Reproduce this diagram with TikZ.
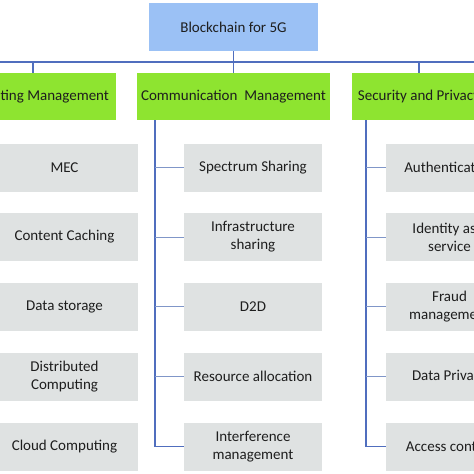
\documentclass[tikz,border=0pt]{standalone}
\usepackage{fontspec}
\setmainfont{Carlito}
\definecolor{topblue}{RGB}{155,193,245}
\definecolor{lime}{RGB}{142,228,48}
\definecolor{boxgray}{RGB}{223,226,226}
\definecolor{linkblue}{RGB}{80,110,190}
\definecolor{branchblue}{RGB}{128,150,200}
\definecolor{txt}{RGB}{30,30,30}
\begin{document}
\begin{tikzpicture}[x=1pt,y=-1pt,
  every node/.style={inner sep=0pt,text=txt,font=\fontsize{15}{18}\selectfont,align=center},
  topbox/.style={fill=topblue,minimum width=169pt,minimum height=48pt},
  catbox/.style={fill=lime,minimum height=47pt},
  itembox/.style={fill=boxgray,minimum height=48pt,minimum width=138pt},
  bus/.style={draw=linkblue,line width=1.1pt},
  branch/.style={draw=branchblue,line width=0.9pt}]
\useasboundingbox (0,0) rectangle (474,474);
\clip (0,0) rectangle (474,474);
\fill[white] (0,0) rectangle (474,474);
% top
\node[topbox] (top) at (233.5,27) {Blockchain for 5G};
% categories
\node[catbox,minimum width=166pt] (cL) at (33,96.5) {Computing Management};
\node[catbox,minimum width=193pt] (cM) at (233.5,96.5) {Communication\ \ Management};
\node[catbox,minimum width=134pt] (cR) at (419,96.5) {Security and Privacy};
% bus
\coordinate (busL) at (0,62);
\coordinate (busR) at (474,62);
\draw[bus] (busL) -- (busR);
\draw[bus] (top.south) -- (top.south |- busL);
\draw[bus] (cL.north) -- (cL.north |- busL);
\draw[bus] (cM.north) -- (cM.north |- busL);
\draw[bus] (cR.north) -- (cR.north |- busL);
% left column
\node[itembox,minimum width=147pt] (l1) at (64.5,167.5) {MEC};
\node[itembox,minimum width=147pt] (l2) at (64.5,237) {Content Caching};
\node[itembox,minimum width=147pt] (l3) at (64.5,306.5) {Data storage};
\node[itembox,minimum width=147pt] (l4) at (64.5,376.5) {Distributed\\Computing};
\node[itembox,minimum width=147pt] (l5) at (64.5,446.5) {Cloud Computing};
% middle column
\node[itembox] (m1) at (253,167.5) {Spectrum Sharing};
\node[itembox] (m2) at (253,237) {Infrastructure\\sharing};
\node[itembox] (m3) at (253,306.5) {D2D};
\node[itembox] (m4) at (253,376.5) {Resource allocation};
\node[itembox] (m5) at (253,446.5) {Interference\\management};
% right column
\node[itembox,minimum width=127pt] (r1) at (449.5,167.5) {Authentication};
\node[itembox,minimum width=127pt] (r2) at (449.5,237) {Identity as a\\service};
\node[itembox,minimum width=127pt] (r3) at (449.5,306.5) {Fraud\\management};
\node[itembox,minimum width=127pt] (r4) at (449.5,376.5) {Data Privacy};
\node[itembox,minimum width=127pt] (r5) at (449.5,446.5) {Access control};
% middle tree
\coordinate (mv) at (155,120);
\draw[bus] (mv) |- (m5.west);
\foreach \n in {m1,m2,m3,m4} \draw[branch] (\n.west) -- (\n.west -| mv);
% right tree
\coordinate (rv) at (366,120);
\draw[bus] (rv) |- (r5.west);
\foreach \n in {r1,r2,r3,r4} \draw[branch] (\n.west) -- (\n.west -| rv);
\end{tikzpicture}
\end{document}
